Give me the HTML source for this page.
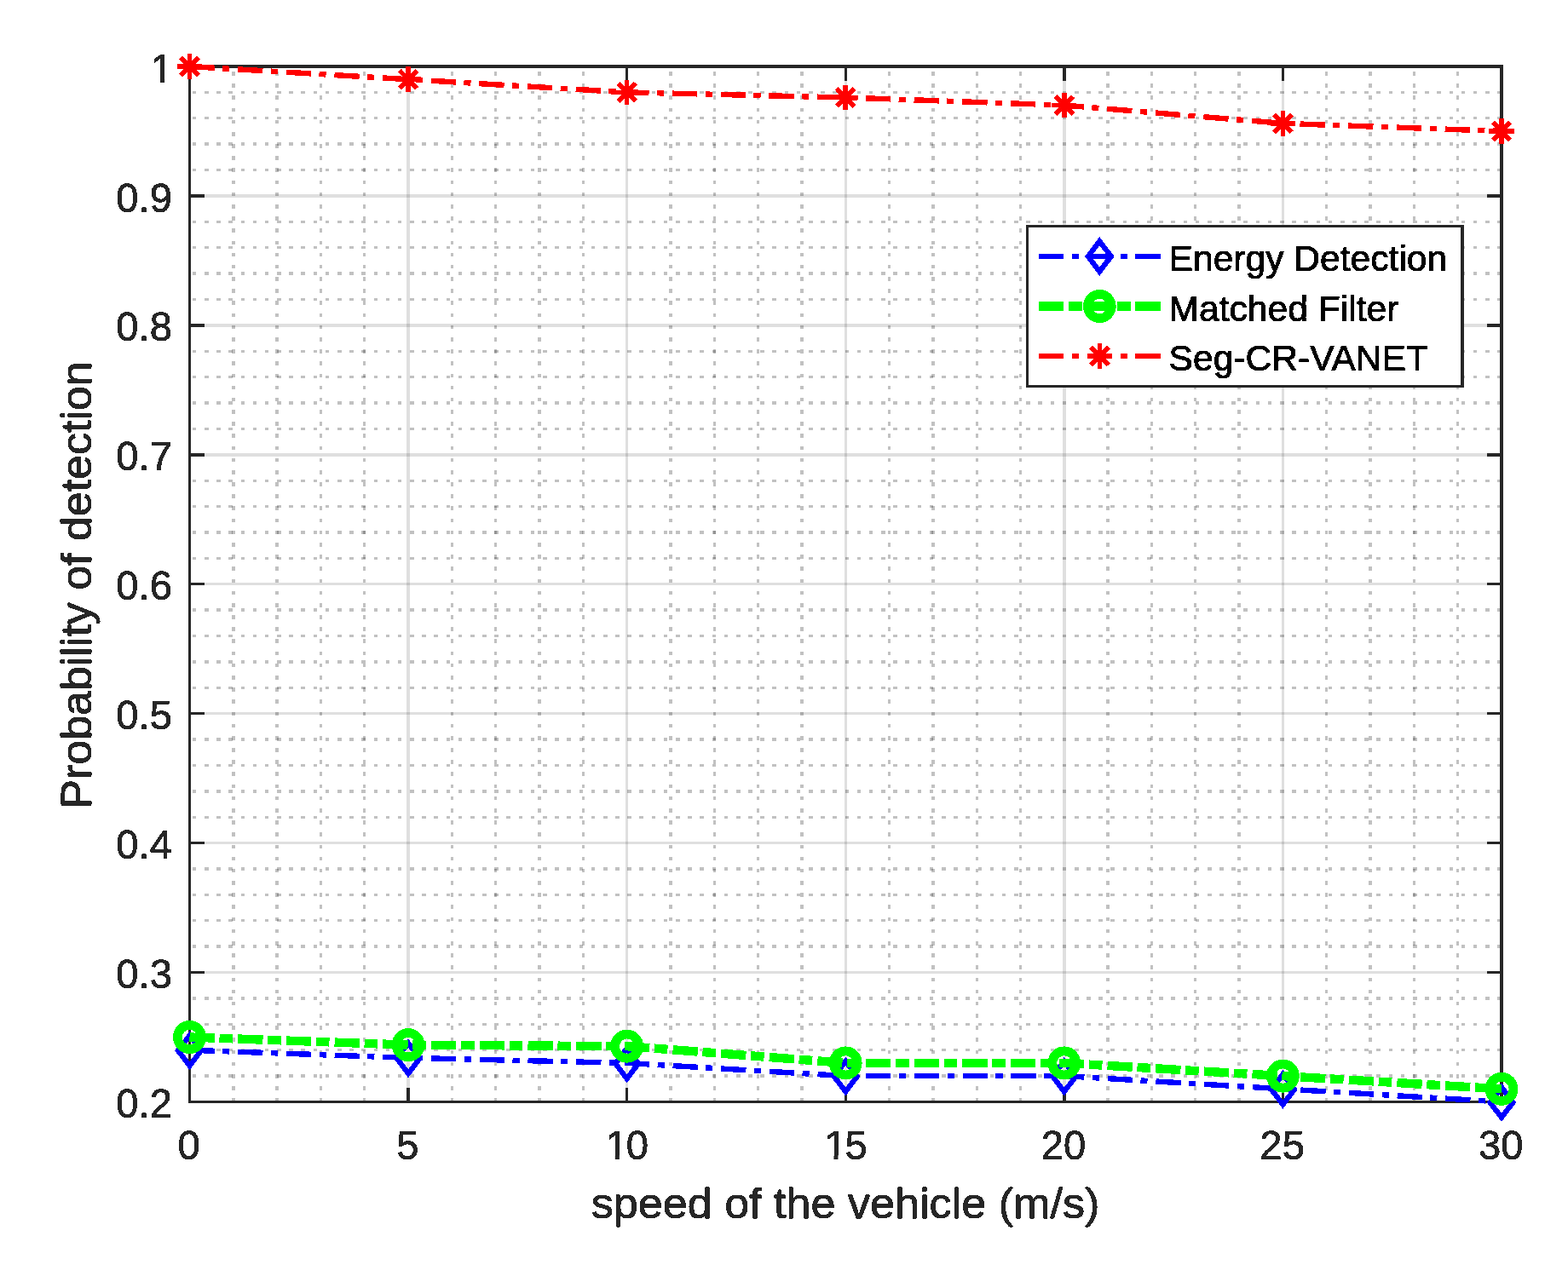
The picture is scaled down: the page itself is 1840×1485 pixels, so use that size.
<!DOCTYPE html>
<html lang="en"><head><meta charset="utf-8"><title>Probability of detection vs speed of the vehicle</title>
<style>html,body{margin:0;padding:0;background:#fff}body{width:1840px;height:1485px;overflow:hidden}svg{display:block}text{font-family:"Liberation Sans",Arial,Helvetica,sans-serif}</style>
</head><body>
<svg width="1840" height="1485" viewBox="0 0 1840 1485" shape-rendering="crispEdges" role="img" aria-label="Probability of detection versus speed of the vehicle">
<rect x="0" y="0" width="1840" height="1485" fill="#ffffff"/>
<defs><filter id="hard" x="-5%" y="-20%" width="110%" height="140%" color-interpolation-filters="sRGB"><feComponentTransfer><feFuncA type="discrete" tableValues="0 1"/></feComponentTransfer></filter></defs>
<g stroke="#262626" stroke-opacity="0.15" stroke-width="3.4" fill="none">
<line x1="479.08" y1="78" x2="479.08" y2="1293.5"/>
<line x1="735.67" y1="78" x2="735.67" y2="1293.5"/>
<line x1="992.25" y1="78" x2="992.25" y2="1293.5"/>
<line x1="1248.83" y1="78" x2="1248.83" y2="1293.5"/>
<line x1="1505.42" y1="78" x2="1505.42" y2="1293.5"/>
<line x1="222.5" y1="1141.56" x2="1762" y2="1141.56"/>
<line x1="222.5" y1="989.62" x2="1762" y2="989.62"/>
<line x1="222.5" y1="837.69" x2="1762" y2="837.69"/>
<line x1="222.5" y1="685.75" x2="1762" y2="685.75"/>
<line x1="222.5" y1="533.81" x2="1762" y2="533.81"/>
<line x1="222.5" y1="381.87" x2="1762" y2="381.87"/>
<line x1="222.5" y1="229.94" x2="1762" y2="229.94"/>
</g>
<g stroke="#1a1a1a" stroke-opacity="0.27" stroke-width="3.4" fill="none">
<line x1="273.82" y1="78" x2="273.82" y2="1293.5" stroke-dasharray="4.6 9.58" stroke-dashoffset="-6"/>
<line x1="325.13" y1="78" x2="325.13" y2="1293.5" stroke-dasharray="4.6 9.58" stroke-dashoffset="-6"/>
<line x1="376.45" y1="78" x2="376.45" y2="1293.5" stroke-dasharray="4.6 9.58" stroke-dashoffset="-6"/>
<line x1="427.77" y1="78" x2="427.77" y2="1293.5" stroke-dasharray="4.6 9.58" stroke-dashoffset="-6"/>
<line x1="530.4" y1="78" x2="530.4" y2="1293.5" stroke-dasharray="4.6 9.58" stroke-dashoffset="-6"/>
<line x1="581.72" y1="78" x2="581.72" y2="1293.5" stroke-dasharray="4.6 9.58" stroke-dashoffset="-6"/>
<line x1="633.03" y1="78" x2="633.03" y2="1293.5" stroke-dasharray="4.6 9.58" stroke-dashoffset="-6"/>
<line x1="684.35" y1="78" x2="684.35" y2="1293.5" stroke-dasharray="4.6 9.58" stroke-dashoffset="-6"/>
<line x1="786.98" y1="78" x2="786.98" y2="1293.5" stroke-dasharray="4.6 9.58" stroke-dashoffset="-6"/>
<line x1="838.3" y1="78" x2="838.3" y2="1293.5" stroke-dasharray="4.6 9.58" stroke-dashoffset="-6"/>
<line x1="889.62" y1="78" x2="889.62" y2="1293.5" stroke-dasharray="4.6 9.58" stroke-dashoffset="-6"/>
<line x1="940.93" y1="78" x2="940.93" y2="1293.5" stroke-dasharray="4.6 9.58" stroke-dashoffset="-6"/>
<line x1="1043.57" y1="78" x2="1043.57" y2="1293.5" stroke-dasharray="4.6 9.58" stroke-dashoffset="-6"/>
<line x1="1094.88" y1="78" x2="1094.88" y2="1293.5" stroke-dasharray="4.6 9.58" stroke-dashoffset="-6"/>
<line x1="1146.2" y1="78" x2="1146.2" y2="1293.5" stroke-dasharray="4.6 9.58" stroke-dashoffset="-6"/>
<line x1="1197.52" y1="78" x2="1197.52" y2="1293.5" stroke-dasharray="4.6 9.58" stroke-dashoffset="-6"/>
<line x1="1300.15" y1="78" x2="1300.15" y2="1293.5" stroke-dasharray="4.6 9.58" stroke-dashoffset="-6"/>
<line x1="1351.47" y1="78" x2="1351.47" y2="1293.5" stroke-dasharray="4.6 9.58" stroke-dashoffset="-6"/>
<line x1="1402.78" y1="78" x2="1402.78" y2="1293.5" stroke-dasharray="4.6 9.58" stroke-dashoffset="-6"/>
<line x1="1454.1" y1="78" x2="1454.1" y2="1293.5" stroke-dasharray="4.6 9.58" stroke-dashoffset="-6"/>
<line x1="1556.73" y1="78" x2="1556.73" y2="1293.5" stroke-dasharray="4.6 9.58" stroke-dashoffset="-6"/>
<line x1="1608.05" y1="78" x2="1608.05" y2="1293.5" stroke-dasharray="4.6 9.58" stroke-dashoffset="-6"/>
<line x1="1659.37" y1="78" x2="1659.37" y2="1293.5" stroke-dasharray="4.6 9.58" stroke-dashoffset="-6"/>
<line x1="1710.68" y1="78" x2="1710.68" y2="1293.5" stroke-dasharray="4.6 9.58" stroke-dashoffset="-6"/>
</g>
<g stroke="#1a1a1a" stroke-opacity="0.27" stroke-width="3.4" fill="none">
<line x1="222.5" y1="1263.11" x2="1762" y2="1263.11" stroke-dasharray="4.6 9.58" stroke-dashoffset="-3.3"/>
<line x1="222.5" y1="1232.72" x2="1762" y2="1232.72" stroke-dasharray="4.6 9.58" stroke-dashoffset="-3.3"/>
<line x1="222.5" y1="1202.34" x2="1762" y2="1202.34" stroke-dasharray="4.6 9.58" stroke-dashoffset="-3.3"/>
<line x1="222.5" y1="1171.95" x2="1762" y2="1171.95" stroke-dasharray="4.6 9.58" stroke-dashoffset="-3.3"/>
<line x1="222.5" y1="1111.17" x2="1762" y2="1111.17" stroke-dasharray="4.6 9.58" stroke-dashoffset="-3.3"/>
<line x1="222.5" y1="1080.79" x2="1762" y2="1080.79" stroke-dasharray="4.6 9.58" stroke-dashoffset="-3.3"/>
<line x1="222.5" y1="1050.4" x2="1762" y2="1050.4" stroke-dasharray="4.6 9.58" stroke-dashoffset="-3.3"/>
<line x1="222.5" y1="1020.01" x2="1762" y2="1020.01" stroke-dasharray="4.6 9.58" stroke-dashoffset="-3.3"/>
<line x1="222.5" y1="959.24" x2="1762" y2="959.24" stroke-dasharray="4.6 9.58" stroke-dashoffset="-3.3"/>
<line x1="222.5" y1="928.85" x2="1762" y2="928.85" stroke-dasharray="4.6 9.58" stroke-dashoffset="-3.3"/>
<line x1="222.5" y1="898.46" x2="1762" y2="898.46" stroke-dasharray="4.6 9.58" stroke-dashoffset="-3.3"/>
<line x1="222.5" y1="868.07" x2="1762" y2="868.07" stroke-dasharray="4.6 9.58" stroke-dashoffset="-3.3"/>
<line x1="222.5" y1="807.3" x2="1762" y2="807.3" stroke-dasharray="4.6 9.58" stroke-dashoffset="-3.3"/>
<line x1="222.5" y1="776.91" x2="1762" y2="776.91" stroke-dasharray="4.6 9.58" stroke-dashoffset="-3.3"/>
<line x1="222.5" y1="746.52" x2="1762" y2="746.52" stroke-dasharray="4.6 9.58" stroke-dashoffset="-3.3"/>
<line x1="222.5" y1="716.14" x2="1762" y2="716.14" stroke-dasharray="4.6 9.58" stroke-dashoffset="-3.3"/>
<line x1="222.5" y1="655.36" x2="1762" y2="655.36" stroke-dasharray="4.6 9.58" stroke-dashoffset="-3.3"/>
<line x1="222.5" y1="624.98" x2="1762" y2="624.98" stroke-dasharray="4.6 9.58" stroke-dashoffset="-3.3"/>
<line x1="222.5" y1="594.59" x2="1762" y2="594.59" stroke-dasharray="4.6 9.58" stroke-dashoffset="-3.3"/>
<line x1="222.5" y1="564.2" x2="1762" y2="564.2" stroke-dasharray="4.6 9.58" stroke-dashoffset="-3.3"/>
<line x1="222.5" y1="503.42" x2="1762" y2="503.42" stroke-dasharray="4.6 9.58" stroke-dashoffset="-3.3"/>
<line x1="222.5" y1="473.04" x2="1762" y2="473.04" stroke-dasharray="4.6 9.58" stroke-dashoffset="-3.3"/>
<line x1="222.5" y1="442.65" x2="1762" y2="442.65" stroke-dasharray="4.6 9.58" stroke-dashoffset="-3.3"/>
<line x1="222.5" y1="412.26" x2="1762" y2="412.26" stroke-dasharray="4.6 9.58" stroke-dashoffset="-3.3"/>
<line x1="222.5" y1="351.49" x2="1762" y2="351.49" stroke-dasharray="4.6 9.58" stroke-dashoffset="-3.3"/>
<line x1="222.5" y1="321.1" x2="1762" y2="321.1" stroke-dasharray="4.6 9.58" stroke-dashoffset="-3.3"/>
<line x1="222.5" y1="290.71" x2="1762" y2="290.71" stroke-dasharray="4.6 9.58" stroke-dashoffset="-3.3"/>
<line x1="222.5" y1="260.32" x2="1762" y2="260.32" stroke-dasharray="4.6 9.58" stroke-dashoffset="-3.3"/>
<line x1="222.5" y1="199.55" x2="1762" y2="199.55" stroke-dasharray="4.6 9.58" stroke-dashoffset="-3.3"/>
<line x1="222.5" y1="169.16" x2="1762" y2="169.16" stroke-dasharray="4.6 9.58" stroke-dashoffset="-3.3"/>
<line x1="222.5" y1="138.78" x2="1762" y2="138.78" stroke-dasharray="4.6 9.58" stroke-dashoffset="-3.3"/>
<line x1="222.5" y1="108.39" x2="1762" y2="108.39" stroke-dasharray="4.6 9.58" stroke-dashoffset="-3.3"/>
</g>
<g stroke="#262626" stroke-width="3.4" fill="none" stroke-linecap="butt">
<line x1="479.08" y1="1293.5" x2="479.08" y2="1276.8"/>
<line x1="479.08" y1="78" x2="479.08" y2="94.7"/>
<line x1="735.67" y1="1293.5" x2="735.67" y2="1276.8"/>
<line x1="735.67" y1="78" x2="735.67" y2="94.7"/>
<line x1="992.25" y1="1293.5" x2="992.25" y2="1276.8"/>
<line x1="992.25" y1="78" x2="992.25" y2="94.7"/>
<line x1="1248.83" y1="1293.5" x2="1248.83" y2="1276.8"/>
<line x1="1248.83" y1="78" x2="1248.83" y2="94.7"/>
<line x1="1505.42" y1="1293.5" x2="1505.42" y2="1276.8"/>
<line x1="1505.42" y1="78" x2="1505.42" y2="94.7"/>
<line x1="222.5" y1="1141.56" x2="239.8" y2="1141.56"/>
<line x1="1762" y1="1141.56" x2="1744.7" y2="1141.56"/>
<line x1="222.5" y1="989.62" x2="239.8" y2="989.62"/>
<line x1="1762" y1="989.62" x2="1744.7" y2="989.62"/>
<line x1="222.5" y1="837.69" x2="239.8" y2="837.69"/>
<line x1="1762" y1="837.69" x2="1744.7" y2="837.69"/>
<line x1="222.5" y1="685.75" x2="239.8" y2="685.75"/>
<line x1="1762" y1="685.75" x2="1744.7" y2="685.75"/>
<line x1="222.5" y1="533.81" x2="239.8" y2="533.81"/>
<line x1="1762" y1="533.81" x2="1744.7" y2="533.81"/>
<line x1="222.5" y1="381.87" x2="239.8" y2="381.87"/>
<line x1="1762" y1="381.87" x2="1744.7" y2="381.87"/>
<line x1="222.5" y1="229.94" x2="239.8" y2="229.94"/>
<line x1="1762" y1="229.94" x2="1744.7" y2="229.94"/>
</g>
<g fill="#262626">
<rect x="221" y="76" width="3" height="1219"/>
<rect x="1760" y="76" width="4" height="1219"/>
<rect x="221" y="76" width="1543" height="4"/>
<rect x="221" y="1292" width="1543" height="3"/>
</g>
<g>
<text transform="translate(202 1312.1) scale(0.98 1)" font-size="48.2" text-anchor="end" fill="#262626" stroke="#262626" stroke-width="0.7" stroke-linejoin="round" filter="url(#hard)">0.2</text>
<text transform="translate(202 1160.16) scale(0.98 1)" font-size="48.2" text-anchor="end" fill="#262626" stroke="#262626" stroke-width="0.7" stroke-linejoin="round" filter="url(#hard)">0.3</text>
<text transform="translate(202 1008.23) scale(0.98 1)" font-size="48.2" text-anchor="end" fill="#262626" stroke="#262626" stroke-width="0.7" stroke-linejoin="round" filter="url(#hard)">0.4</text>
<text transform="translate(202 856.29) scale(0.98 1)" font-size="48.2" text-anchor="end" fill="#262626" stroke="#262626" stroke-width="0.7" stroke-linejoin="round" filter="url(#hard)">0.5</text>
<text transform="translate(202 704.35) scale(0.98 1)" font-size="48.2" text-anchor="end" fill="#262626" stroke="#262626" stroke-width="0.7" stroke-linejoin="round" filter="url(#hard)">0.6</text>
<text transform="translate(202 552.41) scale(0.98 1)" font-size="48.2" text-anchor="end" fill="#262626" stroke="#262626" stroke-width="0.7" stroke-linejoin="round" filter="url(#hard)">0.7</text>
<text transform="translate(202 400.47) scale(0.98 1)" font-size="48.2" text-anchor="end" fill="#262626" stroke="#262626" stroke-width="0.7" stroke-linejoin="round" filter="url(#hard)">0.8</text>
<text transform="translate(202 248.54) scale(0.98 1)" font-size="48.2" text-anchor="end" fill="#262626" stroke="#262626" stroke-width="0.7" stroke-linejoin="round" filter="url(#hard)">0.9</text>
<clipPath id="nofoot1"><rect x="171.8" y="46.6" width="36.27" height="44.95"/><rect x="188.03" y="91.05" width="5.07" height="12"/></clipPath>
<g clip-path="url(#nofoot1)">
<text transform="translate(176.8 96.6) scale(0.98 1)" font-size="48.2" text-anchor="start" fill="#262626" stroke="#262626" stroke-width="0.7" stroke-linejoin="round" filter="url(#hard)">1</text>
</g>
<text transform="translate(221.7 1361.4) scale(0.98 1)" font-size="48.2" text-anchor="middle" fill="#262626" stroke="#262626" stroke-width="0.7" stroke-linejoin="round" filter="url(#hard)">0</text>
<text transform="translate(478.28 1361.4) scale(0.98 1)" font-size="48.2" text-anchor="middle" fill="#262626" stroke="#262626" stroke-width="0.7" stroke-linejoin="round" filter="url(#hard)">5</text>
<clipPath id="nofoot2"><rect x="703.6" y="1311.4" width="62.54" height="44.95"/><rect x="721.82" y="1355.85" width="5.07" height="12"/><rect x="736.04" y="1355.85" width="30.09" height="12"/></clipPath>
<g clip-path="url(#nofoot2)">
<text transform="translate(733.87 1361.4) scale(0.98 1)" font-size="48.2" text-anchor="middle" fill="#262626" stroke="#262626" stroke-width="0.7" stroke-linejoin="round" dx="2.04 -2.04" filter="url(#hard)">10</text>
</g>
<clipPath id="nofoot3"><rect x="960.18" y="1311.4" width="62.54" height="44.95"/><rect x="978.41" y="1355.85" width="5.07" height="12"/><rect x="992.63" y="1355.85" width="30.09" height="12"/></clipPath>
<g clip-path="url(#nofoot3)">
<text transform="translate(990.45 1361.4) scale(0.98 1)" font-size="48.2" text-anchor="middle" fill="#262626" stroke="#262626" stroke-width="0.7" stroke-linejoin="round" dx="2.04 -2.04" filter="url(#hard)">15</text>
</g>
<text transform="translate(1248.03 1361.4) scale(0.98 1)" font-size="48.2" text-anchor="middle" fill="#262626" stroke="#262626" stroke-width="0.7" stroke-linejoin="round" filter="url(#hard)">20</text>
<text transform="translate(1504.62 1361.4) scale(0.98 1)" font-size="48.2" text-anchor="middle" fill="#262626" stroke="#262626" stroke-width="0.7" stroke-linejoin="round" filter="url(#hard)">25</text>
<text transform="translate(1761.2 1361.4) scale(0.98 1)" font-size="48.2" text-anchor="middle" fill="#262626" stroke="#262626" stroke-width="0.7" stroke-linejoin="round" filter="url(#hard)">30</text>
</g>
<text transform="translate(992 1430) scale(1.026 1)" font-size="50.8" text-anchor="middle" fill="#262626" stroke="#262626" stroke-width="0.9" stroke-linejoin="round" filter="url(#hard)">speed of the vehicle (m/s)</text>
<text transform="translate(107 686.9) rotate(-90) scale(1.0225 0.995)" font-size="50.8" text-anchor="middle" fill="#262626" stroke="#262626" stroke-width="0.9" stroke-linejoin="round" filter="url(#hard)">Probability of detection</text>
<g>
<polyline points="222.5,1232.73 479.08,1241.84 735.67,1247.92 992.25,1263.11 1248.83,1263.11 1505.42,1278.31 1762,1293.5" fill="none" stroke="#0000ff" stroke-width="6.4" stroke-dasharray="29.3 9.45 8.1 9.89" stroke-dashoffset="0" stroke-linejoin="miter"/>
<path d="M222.5 1215.53L236 1233.33L222.5 1251.12L209 1233.33Z" fill="none" stroke="#0000ff" stroke-width="6.2" stroke-linejoin="miter" stroke-miterlimit="10"/>
<path d="M479.08 1224.64L492.58 1242.44L479.08 1260.24L465.58 1242.44Z" fill="none" stroke="#0000ff" stroke-width="6.2" stroke-linejoin="miter" stroke-miterlimit="10"/>
<path d="M735.67 1230.72L749.17 1248.52L735.67 1266.32L722.17 1248.52Z" fill="none" stroke="#0000ff" stroke-width="6.2" stroke-linejoin="miter" stroke-miterlimit="10"/>
<path d="M992.25 1245.91L1005.75 1263.71L992.25 1281.51L978.75 1263.71Z" fill="none" stroke="#0000ff" stroke-width="6.2" stroke-linejoin="miter" stroke-miterlimit="10"/>
<path d="M1248.83 1245.91L1262.33 1263.71L1248.83 1281.51L1235.33 1263.71Z" fill="none" stroke="#0000ff" stroke-width="6.2" stroke-linejoin="miter" stroke-miterlimit="10"/>
<path d="M1505.42 1261.11L1518.92 1278.91L1505.42 1296.71L1491.92 1278.91Z" fill="none" stroke="#0000ff" stroke-width="6.2" stroke-linejoin="miter" stroke-miterlimit="10"/>
<path d="M1762 1276.3L1775.5 1294.1L1762 1311.9L1748.5 1294.1Z" fill="none" stroke="#0000ff" stroke-width="6.2" stroke-linejoin="miter" stroke-miterlimit="10"/>
<polyline points="222.5,1217.53 479.08,1226.65 735.67,1228.17 992.25,1247.92 1248.83,1247.92 1505.42,1263.11 1762,1278.31" fill="none" stroke="#00ff00" stroke-width="10.4" stroke-dasharray="29.3 5.7 15.6 6.14" stroke-dashoffset="0" stroke-linejoin="miter"/>
<ellipse cx="222.5" cy="1217.53" rx="14" ry="14.1" fill="none" stroke="#00ff00" stroke-width="10.8"/>
<ellipse cx="479.08" cy="1226.65" rx="14" ry="14.1" fill="none" stroke="#00ff00" stroke-width="10.8"/>
<ellipse cx="735.67" cy="1228.17" rx="14" ry="14.1" fill="none" stroke="#00ff00" stroke-width="10.8"/>
<ellipse cx="992.25" cy="1247.92" rx="14" ry="14.1" fill="none" stroke="#00ff00" stroke-width="10.8"/>
<ellipse cx="1248.83" cy="1247.92" rx="14" ry="14.1" fill="none" stroke="#00ff00" stroke-width="10.8"/>
<ellipse cx="1505.42" cy="1263.11" rx="14" ry="14.1" fill="none" stroke="#00ff00" stroke-width="10.8"/>
<ellipse cx="1762" cy="1278.31" rx="14" ry="14.1" fill="none" stroke="#00ff00" stroke-width="10.8"/>
<polyline points="222.5,78 479.08,93.19 735.67,108.39 992.25,114.47 1248.83,123.58 1505.42,144.85 1762,153.97" fill="none" stroke="#ff0000" stroke-width="6.4" stroke-dasharray="29.3 9.45 8.1 9.89" stroke-dashoffset="0" stroke-linejoin="miter"/>
<path d="M207.97 78H237.03M222.5 63.2V92.8M212.22 67.53L232.78 88.47M212.22 88.47L232.78 67.53" fill="none" stroke="#ff0000" stroke-width="5.6" stroke-linecap="butt"/>
<path d="M464.55 93.19H493.62M479.08 78.39V107.99M468.81 82.73L489.36 103.66M468.81 103.66L489.36 82.73" fill="none" stroke="#ff0000" stroke-width="5.6" stroke-linecap="butt"/>
<path d="M721.13 108.39H750.2M735.67 93.59V123.19M725.39 97.92L745.94 118.85M725.39 118.85L745.94 97.92" fill="none" stroke="#ff0000" stroke-width="5.6" stroke-linecap="butt"/>
<path d="M977.72 114.47H1006.78M992.25 99.67V129.27M981.97 104L1002.53 124.93M981.97 124.93L1002.53 104" fill="none" stroke="#ff0000" stroke-width="5.6" stroke-linecap="butt"/>
<path d="M1234.3 123.58H1263.37M1248.83 108.78V138.38M1238.56 113.12L1259.11 134.05M1238.56 134.05L1259.11 113.12" fill="none" stroke="#ff0000" stroke-width="5.6" stroke-linecap="butt"/>
<path d="M1490.88 144.85H1519.95M1505.42 130.05V159.65M1495.14 134.39L1515.69 155.32M1495.14 155.32L1515.69 134.39" fill="none" stroke="#ff0000" stroke-width="5.6" stroke-linecap="butt"/>
<path d="M1747.47 153.97H1776.53M1762 139.17V168.77M1751.72 143.5L1772.28 164.43M1751.72 164.43L1772.28 143.5" fill="none" stroke="#ff0000" stroke-width="5.6" stroke-linecap="butt"/>
</g>
<g>
<rect x="1205.6" y="265.5" width="510.4" height="188" fill="#ffffff" stroke="#262626" stroke-width="3.4"/>
<line x1="1218.8" y1="301" x2="1362.1" y2="301" stroke="#0000ff" stroke-width="6.4" stroke-dasharray="29.3 9.85 8.1 9.49"/>
<path d="M1290.3 283.2L1303.8 301L1290.3 318.8L1276.8 301Z" fill="none" stroke="#0000ff" stroke-width="6.2" stroke-linejoin="miter" stroke-miterlimit="10"/>
<line x1="1218.8" y1="359.5" x2="1362.1" y2="359.5" stroke="#00ff00" stroke-width="10.4" stroke-dasharray="29.3 6.1 15.6 5.74"/>
<ellipse cx="1290.3" cy="359.5" rx="14" ry="14.1" fill="none" stroke="#00ff00" stroke-width="10.8"/>
<line x1="1218.8" y1="418" x2="1362.1" y2="418" stroke="#ff0000" stroke-width="6.4" stroke-dasharray="29.3 9.85 8.1 9.49"/>
<path d="M1275.77 418H1304.83M1290.3 403.2V432.8M1280.02 407.53L1300.58 428.47M1280.02 428.47L1300.58 407.53" fill="none" stroke="#ff0000" stroke-width="5.6" stroke-linecap="butt"/>
<text transform="translate(1371.6 318.1) scale(0.995 1)" font-size="42.8" text-anchor="start" fill="#000000" stroke="#000000" stroke-width="0.9" stroke-linejoin="round" filter="url(#hard)">Energy Detection</text>
<text transform="translate(1371.6 376.8) scale(0.995 1)" font-size="42.8" text-anchor="start" fill="#000000" stroke="#000000" stroke-width="0.9" stroke-linejoin="round" filter="url(#hard)">Matched Filter</text>
<text transform="translate(1371.6 434.7) scale(0.995 1)" font-size="42.8" text-anchor="start" fill="#000000" stroke="#000000" stroke-width="0.9" stroke-linejoin="round" filter="url(#hard)">Seg-CR-VANET</text>
</g>
</svg>
</body></html>
